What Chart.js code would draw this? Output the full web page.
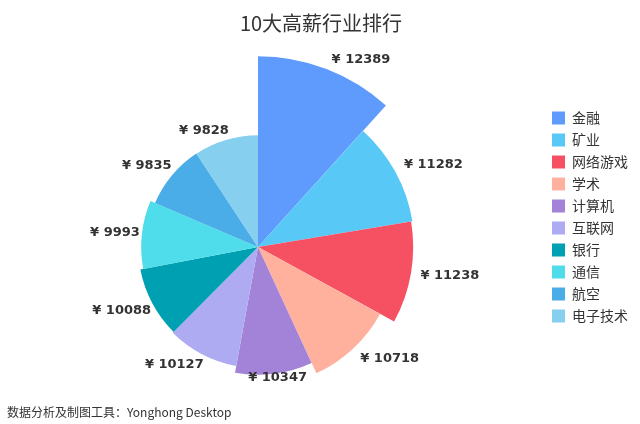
<!DOCTYPE html>
<html><head><meta charset="utf-8">
<script src="https://cdn.jsdelivr.net/npm/chart.js@4.4.0/dist/chart.umd.min.js"></script>
<style>
html,body{margin:0;padding:0;background:#fff;overflow:hidden;width:640px;height:424px;position:relative}
#title{position:absolute;left:0;top:12px;width:642px;text-align:center;font:20px/22px "Noto Sans CJK SC",sans-serif;color:#333}
#note{position:absolute;left:7px;top:404px;font:12px/16px "Noto Sans CJK SC",sans-serif;color:#333}
#c{position:absolute;left:-27px;top:0}
</style></head><body>
<canvas id="c" width="667" height="438"></canvas>
<div id="title">10大高薪行业排行</div>
<div id="note">数据分析及制图工具：Yonghong Desktop</div>
<script>
const categories = ['金融','矿业','网络游戏','学术','计算机','互联网','银行','通信','航空','电子技术'];
const salaries = [12389, 11282, 11238, 10718, 10347, 10127, 10088, 9993, 9835, 9828];
const colors = ['#5E9BFD','#58C8F6','#F65063','#FFB19E','#A283D7','#AEABF3','#00A0B3','#50DDEB','#4AADE7','#86CFEE'];
const radialMin = 6200;
const radialMax = 12400;
const labelPrefix = '¥ ';

const total = salaries.reduce((a, b) => a + b, 0);

const valueLabels = {
  id: 'valueLabels',
  afterDatasetsDraw(chart) {
    const ctx = chart.ctx;
    const meta = chart.getDatasetMeta(0);
    const vals = chart.data.datasets[0].data;
    ctx.save();
    ctx.font = 'bold 13px "DejaVu Sans"';
    ctx.fillStyle = '#333';
    ctx.textBaseline = 'middle';
    meta.data.forEach((arc, i) => {
      const p = arc.getProps(['x', 'y', 'startAngle', 'endAngle', 'outerRadius'], true);
      const mid = (p.startAngle + p.endAngle) / 2;
      const c = Math.cos(mid), s = Math.sin(mid);
      let R = p.outerRadius + 7;
      let tx, ty, align;
      if (Math.abs(c) < 0.2) {
        R = p.outerRadius + 4.3;
        align = 'center';
        tx = p.x + c * R + 3;
        ty = p.y + s * R;
      } else {
        const ax = p.x + c * R;
        const ay = p.y + s * R;
        if (c > 0) { align = 'left'; tx = ax + 2.5; }
        else { align = 'right'; tx = ax + 5; }
        ty = ay + 10 * s * Math.abs(c);
      }
      ctx.textAlign = align;
      ctx.fillText(labelPrefix + vals[i], tx, ty);
    });
    ctx.restore();
  }
};

Chart.defaults.font.family = '"Noto Sans CJK SC", sans-serif';

new Chart(document.getElementById('c'), {
  type: 'polarArea',
  data: {
    labels: categories,
    datasets: [{
      data: salaries,
      backgroundColor: colors,
      borderWidth: 0,
      angle: (ctx) => salaries[ctx.dataIndex] / total * 360
    }]
  },
  options: {
    responsive: false,
    animation: false,
    layout: { padding: { top: 56, right: 2, bottom: 0, left: 0 } },
    scales: {
      r: {
        min: radialMin,
        max: radialMax,
        grid: { display: false },
        angleLines: { display: false },
        ticks: { display: false },
        pointLabels: { display: false }
      }
    },
    plugins: {
      legend: {
        position: 'right',
        align: 'start',
        title: { display: true, text: '', font: { size: 12 }, padding: { top: 0, bottom: 32.6 } },
        labels: {
          boxWidth: 13,
          boxHeight: 13,
          padding: 8,
          color: '#333',
          font: { size: 14 }
        }
      },
      tooltip: { enabled: false }
    }
  },
  plugins: [valueLabels]
});
</script>
</body></html>
